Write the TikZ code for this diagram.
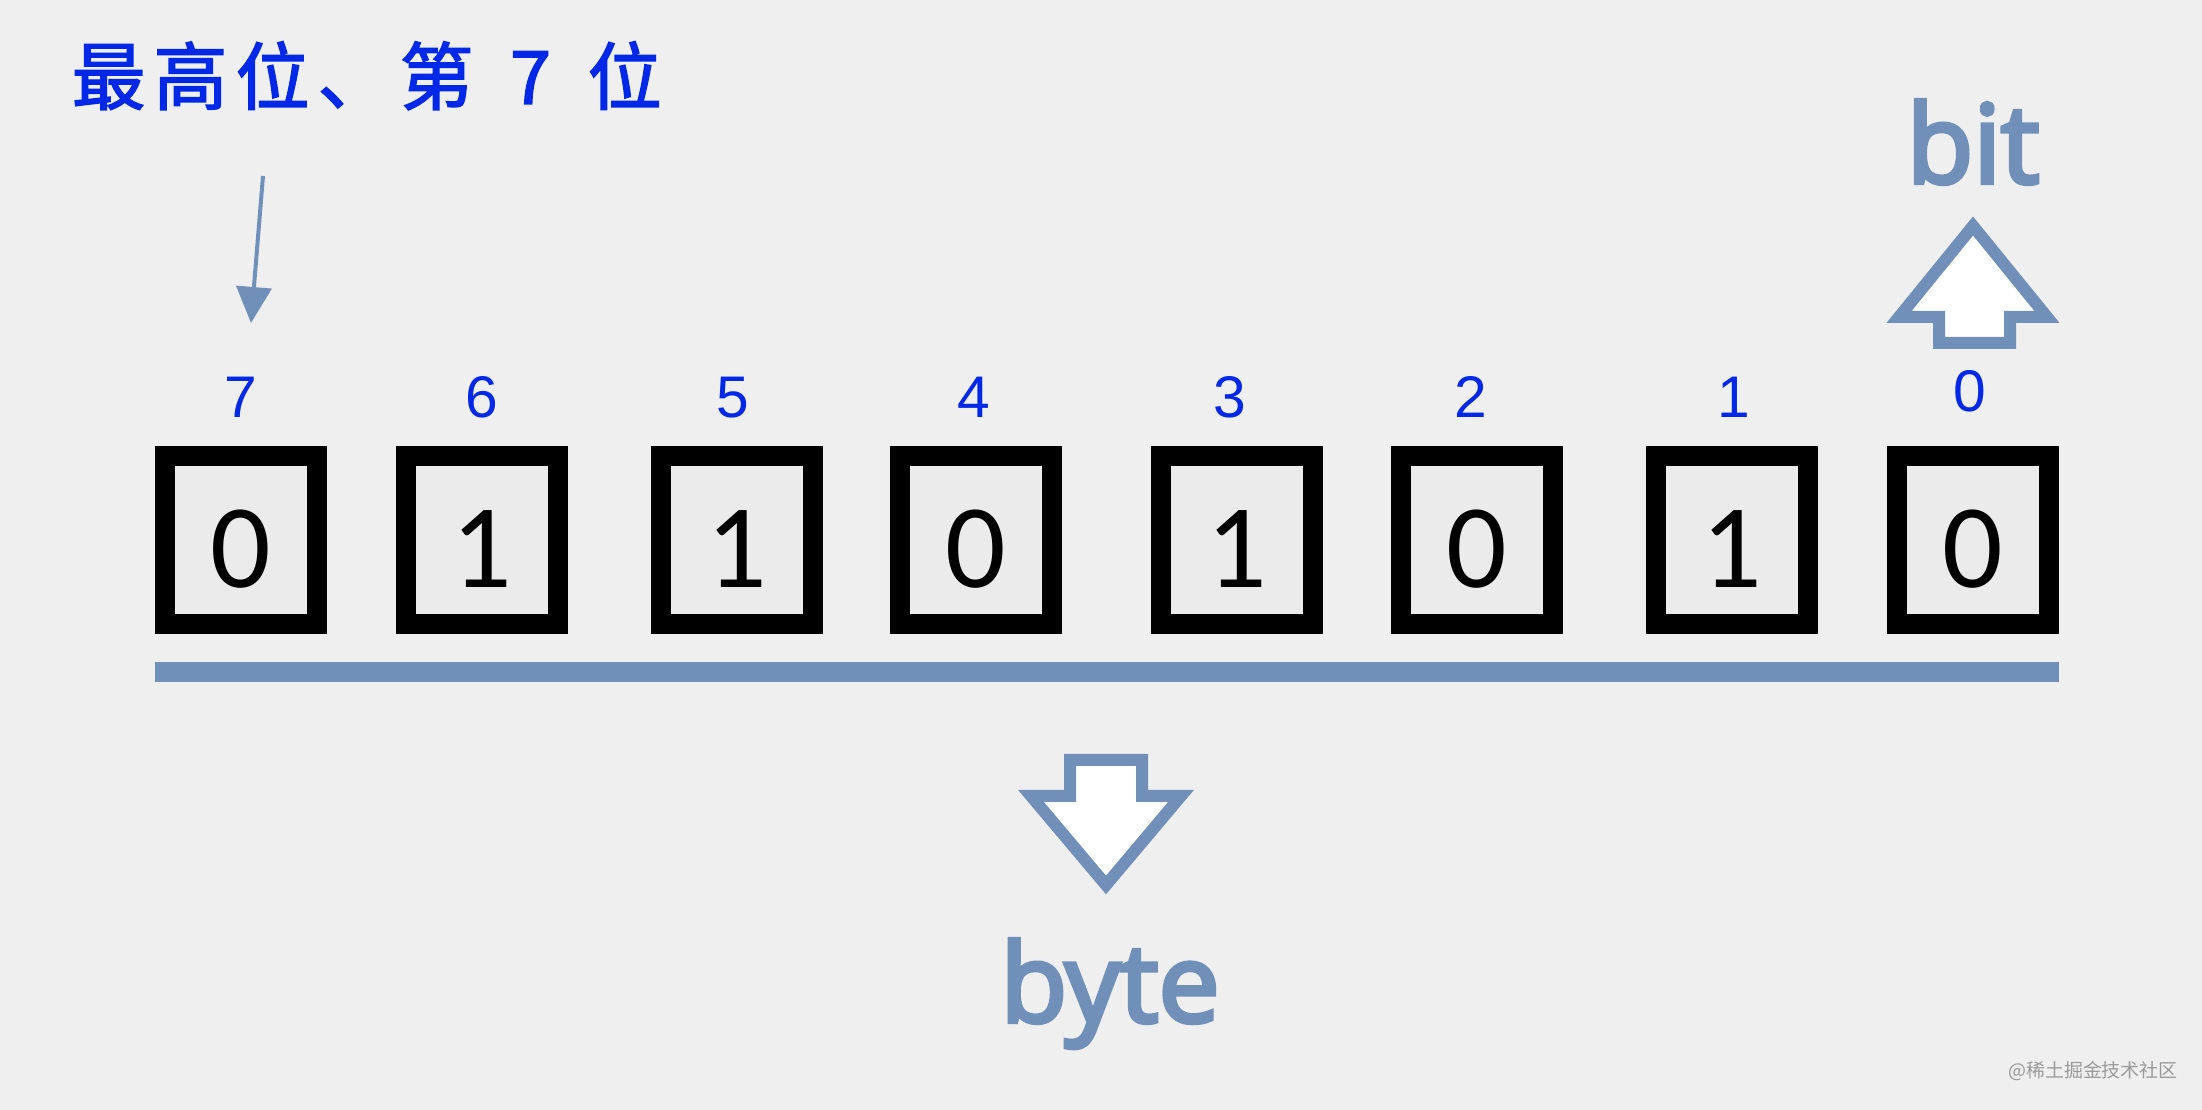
\documentclass[tikz,border=0pt]{standalone}
\usepackage{fontspec}
\setmainfont{Liberation Sans}
\newfontfamily\cjkfont{Noto Sans CJK SC}
\newfontfamily\titlefont[FakeBold=2]{Noto Sans CJK SC}
\newfontfamily\cellfont{Carlito}
\newfontfamily\tagfont[FakeBold=4]{Open Sans}
\usetikzlibrary{arrows.meta}
\definecolor{bgcol}{HTML}{EFEFEF}
\definecolor{markblue}{HTML}{0028E6}
\definecolor{steel}{HTML}{7090B9}
\definecolor{cellfill}{HTML}{EBEBEB}
\definecolor{markgray}{HTML}{9A9A9A}

\begin{document}
\begin{tikzpicture}[x=0.01cm,y=-0.01cm,
  bitbox/.style={draw=black,line width=0.2cm,fill=cellfill,minimum width=1.52cm,minimum height=1.68cm,inner sep=0pt,text height=0.94cm,text depth=0pt,font=\cellfont\fontsize{34pt}{34pt}\selectfont},
  bitno/.style={anchor=base,text=markblue,inner sep=0pt,font=\fontsize{16.7pt}{16.7pt}\selectfont},
  ptr/.style={draw=steel,line width=0.04cm,-{Triangle[length=0.36cm,width=0.35cm]}},
  fatarrow/.style={draw=steel,line width=0.12cm,fill=white},
  tagtext/.style={anchor=base,text=steel,inner sep=0pt,font=\tagfont\fontsize{31pt}{31pt}\selectfont}]
\useasboundingbox (0,0) rectangle (2202,1110);
\fill [bgcol] (0,0) rectangle (2202,1110);
% title and pointer
\node [anchor=base west,inner sep=0pt,text=markblue,font=\titlefont\fontsize{21pt}{21pt}\selectfont\addfontfeature{LetterSpace=11}] (title) at (71,104) {最高位、第\hspace{0.12cm} 7\hspace{0.12cm} 位};
\coordinate (ptrtail) at (263,176);
\coordinate (ptrtip) at (251,323);
\draw [ptr] (ptrtail) -- (ptrtip);
% the eight bits
\node [bitbox] (b7) at (241,540) {0};
\node [bitbox] (b6) at (482,540) {1};
\node [bitbox] (b5) at (737,540) {1};
\node [bitbox] (b4) at (976,540) {0};
\node [bitbox] (b3) at (1237,540) {1};
\node [bitbox] (b2) at (1477,540) {0};
\node [bitbox] (b1) at (1732,540) {1};
\node [bitbox] (b0) at (1973,540) {0};
\node [bitno] (n7) at (241,418) {7};
\node [bitno] (n6) at (482,418) {6};
\node [bitno] (n5) at (733,418) {5};
\node [bitno] (n4) at (974,418) {4};
\node [bitno] (n3) at (1230,418) {3};
\node [bitno] (n2) at (1471,418) {2};
\node [bitno] (n1) at (1734,418) {1};
\node [bitno] (n0) at (1970,412) {0};
\draw [steel,line width=0.2cm] ([yshift=-0.38cm]b7.south west) -- ([yshift=-0.38cm]b0.south east);
% bit / byte
\draw [fatarrow] (1939,343) -- (2010,343) -- (2010,317) -- (2047,317) -- (1973,226) -- (1899,317) -- (1939,317) -- cycle;
\node [tagtext] (bit) at (1973,183) {bit};
\draw [fatarrow] (1070,760) -- (1142,760) -- (1142,796) -- (1181,796) -- (1106,885) -- (1031,796) -- (1070,796) -- cycle;
\node [tagtext] (byte) at (1110,1022) {byte};
\node [text=markgray,inner sep=0pt,font=\cjkfont\fontsize{5.4pt}{6pt}\selectfont] (mark) at (2093,1071) {@稀土掘金技术社区};
\end{tikzpicture}
\end{document}
